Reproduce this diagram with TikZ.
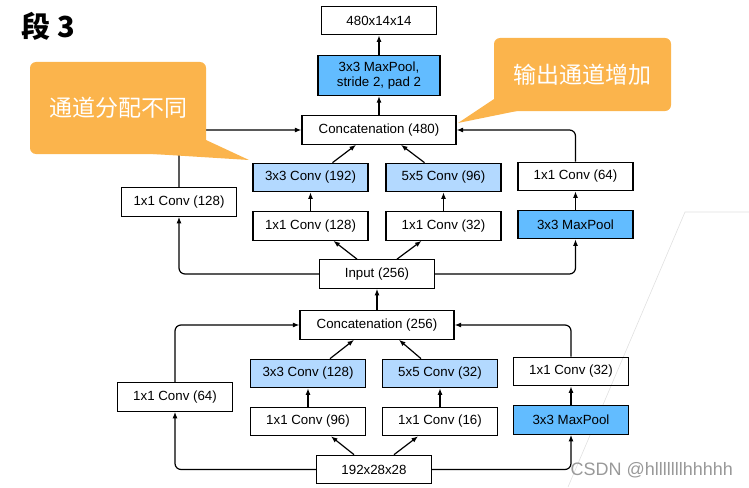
\documentclass[tikz,border=0pt]{standalone}
\usepackage{fontspec}
\setmainfont{Liberation Sans}
\newfontfamily\cjk{Noto Sans CJK SC}
\usepackage{xcolor}
\usetikzlibrary{calc, positioning, arrows.meta}

\definecolor{poolblue}{HTML}{62BCFF}
\definecolor{convblue}{HTML}{B3D9FF}
\definecolor{noteorange}{HTML}{FBB44C}

\begin{document}
\begin{tikzpicture}[>={Latex[length=6.5pt, width=5pt]}, x=1pt, y=-1pt, line width=1.2pt,
    plainbox/.style={draw, minimum width=115pt, minimum height=28.5pt, inner sep=1pt,
        font=\fontsize{13.3}{15}\selectfont},
    convbox/.style={plainbox, fill=convblue},
    poolbox/.style={plainbox, fill=poolblue},
    catbox/.style={plainbox, minimum width=154pt},
    bubble/.style={fill=noteorange, rounded corners=6pt, text=white,
        font=\cjk\fontsize{23}{26}\selectfont}]
    \useasboundingbox (0,0) rectangle (749,487);

    % Tiêu đề
    \node[anchor=west, inner sep=0, font=\cjk\bfseries\fontsize{29}{32}\selectfont] (title) at (21,26) {段 3};

    % Đường mờ bên phải
    \draw[black!12, line width=0.6pt] (749,212) -- (685,212) -- (568,487);

    % Đầu ra
    \node[plainbox] (out) at (379,20.5) {480x14x14};
    \node[poolbox, minimum width=122pt, minimum height=40pt, align=center] (maxp) at (379,75.5) {3x3 MaxPool,\\stride 2, pad 2};
    \node[catbox] (cat1) at (379,130) {Concatenation (480)};

    % Khối Inception thứ hai
    \node[plainbox] (in1) at (377,274) {Input (256)};
    \node[plainbox] (a1) at (179,202) {1x1 Conv (128)};
    \node[plainbox] (b1) at (310.5,226) {1x1 Conv (128)};
    \node[convbox] (b2) at (310.5,177.5) {3x3 Conv (192)};
    \node[plainbox] (c1) at (443.5,226) {1x1 Conv (32)};
    \node[convbox] (c2) at (443.5,177.5) {5x5 Conv (96)};
    \node[poolbox] (d1) at (575.5,224.5) {3x3 MaxPool};
    \node[plainbox] (d2) at (575.5,176.5) {1x1 Conv (64)};

    % Khối Inception thứ nhất
    \node[catbox] (cat2) at (377,325) {Concatenation (256)};
    \node[plainbox] (in2) at (374,469.5) {192x28x28};
    \node[plainbox] (a2) at (175,397) {1x1 Conv (64)};
    \node[plainbox] (b3) at (308,421.5) {1x1 Conv (96)};
    \node[convbox] (b4) at (308,373.5) {3x3 Conv (128)};
    \node[plainbox] (c3) at (440,421.5) {1x1 Conv (16)};
    \node[convbox] (c4) at (440,373.5) {5x5 Conv (32)};
    \node[poolbox] (d3) at (571,420) {3x3 MaxPool};
    \node[plainbox] (d4) at (571,371.5) {1x1 Conv (32)};

    % Mũi tên thẳng
    \draw[->] (maxp) -- (out);
    \draw[->] (cat1) -- (maxp);
    \draw[->] (cat2) -- (in1);
    \foreach \lo/\hi in {b1/b2, c1/c2, d1/d2, b3/b4, c3/c4, d3/d4} {
        \draw[->] (\lo) -- (\hi);
    }
    \foreach \src/\dst/\s/\t in {in1/b1/-20/23, in1/c1/20/-22, b2/cat1/22/-23, c2/cat1/-19/22,
                                 in2/b3/-20/23, in2/c3/20/-22, b4/cat2/22/-23, c4/cat2/-19/22} {
        \draw[->] ($(\src.north)+(\s,0)$) -- ($(\dst.south)+(\t,0)$);
    }

    % Nhánh hai bên
    \draw[->, rounded corners=6pt] (in1.west) -| (a1.south);
    \draw[->, rounded corners=6pt] (in1.east) -| (d1.south);
    \draw[->, rounded corners=6pt] (a1.north) |- (cat1.west);
    \draw[->, rounded corners=6pt] (d2.north) |- (cat1.east);
    \draw[->, rounded corners=6pt] (in2.west) -| (a2.south);
    \draw[->, rounded corners=6pt] (in2.east) -| (d3.south);
    \draw[->, rounded corners=6pt] (a2.north) |- (cat2.west);
    \draw[->, rounded corners=6pt] (d4.north) |- (cat2.east);

    % Chú thích
    \node[bubble, minimum width=176pt, minimum height=92pt] (note1) at (118,108) {通道分配不同};
    \fill[noteorange] (206,140) -- (249,160) -- (153,154) -- cycle;
    \node[bubble, minimum width=177pt, minimum height=73pt] (note2) at (582.5,74.5) {输出通道增加};
    \fill[noteorange] (494,99) -- (458,123) -- (517,111) -- cycle;

    % Watermark
    \node[anchor=west, inner sep=0, text=gray!80, font=\fontsize{18}{20}\selectfont] (mark) at (570,470) {CSDN @hlllllllhhhhh};
\end{tikzpicture}
\end{document}
